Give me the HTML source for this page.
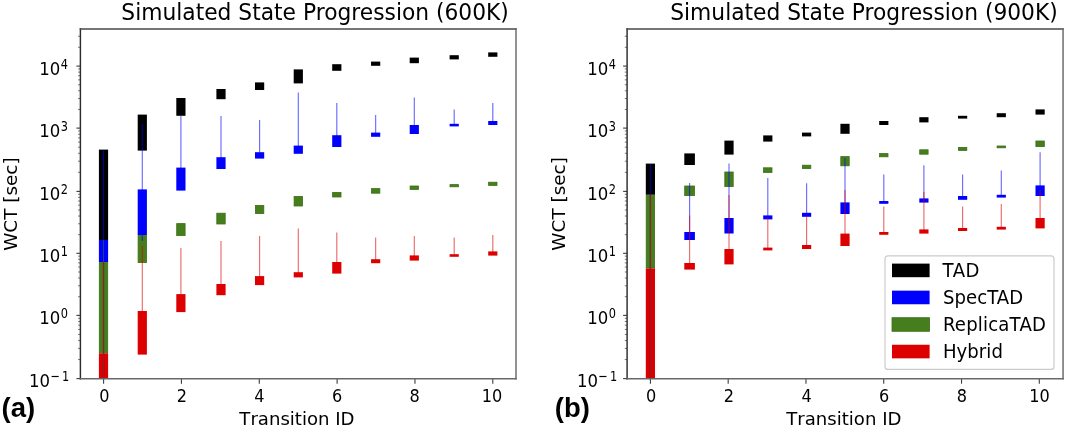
<!DOCTYPE html>
<html lang="en"><head><meta charset="utf-8"><title>Simulated State Progression</title>
<style>html,body{margin:0;padding:0;background:#fff;}body{width:1066px;height:427px;overflow:hidden;}svg{display:block;}</style>
</head><body>
<svg width="1066" height="427" viewBox="0 0 1066 427" font-family='"DejaVu Sans", "Liberation Sans", sans-serif' fill="#000">
<rect width="1066" height="427" fill="#fff"/>
<g>
<rect x="98.90" y="149.60" width="9.20" height="90.40" fill="#000000"/>
<rect x="137.70" y="114.60" width="9.20" height="36.00" fill="#000000"/>
<rect x="176.30" y="98.00" width="9.20" height="17.80" fill="#000000"/>
<rect x="216.40" y="89.00" width="9.20" height="10.20" fill="#000000"/>
<rect x="255.00" y="82.40" width="9.20" height="7.60" fill="#000000"/>
<rect x="293.70" y="69.40" width="9.20" height="14.00" fill="#000000"/>
<rect x="332.20" y="64.20" width="9.20" height="6.60" fill="#000000"/>
<rect x="371.05" y="61.60" width="9.20" height="4.20" fill="#000000"/>
<rect x="409.70" y="57.60" width="9.20" height="5.60" fill="#000000"/>
<rect x="449.60" y="55.20" width="9.20" height="4.20" fill="#000000"/>
<rect x="488.20" y="52.40" width="9.20" height="4.40" fill="#000000"/>
<rect x="98.90" y="240.00" width="9.20" height="22.00" fill="#0000ff"/>
<rect x="137.70" y="189.40" width="9.20" height="45.60" fill="#0000ff"/>
<rect x="176.30" y="167.60" width="9.20" height="23.00" fill="#0000ff"/>
<rect x="216.40" y="157.20" width="9.20" height="11.80" fill="#0000ff"/>
<rect x="255.00" y="152.20" width="9.20" height="6.40" fill="#0000ff"/>
<rect x="293.70" y="145.60" width="9.20" height="8.20" fill="#0000ff"/>
<rect x="332.20" y="135.20" width="9.20" height="11.80" fill="#0000ff"/>
<rect x="371.05" y="132.60" width="9.20" height="4.20" fill="#0000ff"/>
<rect x="409.70" y="125.00" width="9.20" height="9.00" fill="#0000ff"/>
<rect x="449.60" y="123.80" width="9.20" height="2.60" fill="#0000ff"/>
<rect x="488.20" y="121.00" width="9.20" height="4.00" fill="#0000ff"/>
<rect x="99.30" y="262.40" width="8.40" height="90.50" fill="#467e1e" stroke="#3b7016" stroke-width="0.8"/>
<rect x="138.10" y="235.40" width="8.40" height="27.20" fill="#467e1e" stroke="#3b7016" stroke-width="0.8"/>
<rect x="176.70" y="223.60" width="8.40" height="12.00" fill="#467e1e" stroke="#3b7016" stroke-width="0.8"/>
<rect x="216.80" y="213.20" width="8.40" height="10.80" fill="#467e1e" stroke="#3b7016" stroke-width="0.8"/>
<rect x="255.40" y="205.40" width="8.40" height="8.20" fill="#467e1e" stroke="#3b7016" stroke-width="0.8"/>
<rect x="294.10" y="196.40" width="8.40" height="9.60" fill="#467e1e" stroke="#3b7016" stroke-width="0.8"/>
<rect x="332.60" y="192.40" width="8.40" height="4.60" fill="#467e1e" stroke="#3b7016" stroke-width="0.8"/>
<rect x="371.45" y="188.60" width="8.40" height="4.60" fill="#467e1e" stroke="#3b7016" stroke-width="0.8"/>
<rect x="410.10" y="186.00" width="8.40" height="3.40" fill="#467e1e" stroke="#3b7016" stroke-width="0.8"/>
<rect x="450.00" y="184.60" width="8.40" height="2.20" fill="#467e1e" stroke="#3b7016" stroke-width="0.8"/>
<rect x="488.60" y="182.20" width="8.40" height="3.20" fill="#467e1e" stroke="#3b7016" stroke-width="0.8"/>
<rect x="98.90" y="353.30" width="9.20" height="25.40" fill="#dc0000"/>
<rect x="137.70" y="311.00" width="9.20" height="43.60" fill="#dc0000"/>
<rect x="176.30" y="294.10" width="9.20" height="18.00" fill="#dc0000"/>
<rect x="216.40" y="284.00" width="9.20" height="11.20" fill="#dc0000"/>
<rect x="255.00" y="276.10" width="9.20" height="9.00" fill="#dc0000"/>
<rect x="293.70" y="272.20" width="9.20" height="5.20" fill="#dc0000"/>
<rect x="332.20" y="262.00" width="9.20" height="11.60" fill="#dc0000"/>
<rect x="371.05" y="259.20" width="9.20" height="4.00" fill="#dc0000"/>
<rect x="409.70" y="255.40" width="9.20" height="5.20" fill="#dc0000"/>
<rect x="449.60" y="254.20" width="9.20" height="2.60" fill="#dc0000"/>
<rect x="488.20" y="251.40" width="9.20" height="4.20" fill="#dc0000"/>
<line x1="142.30" x2="142.30" y1="124.00" y2="241.00" stroke="#0000ff" stroke-opacity="0.58" stroke-width="1.15"/>
<line x1="180.90" x2="180.90" y1="116.00" y2="179.10" stroke="#0000ff" stroke-opacity="0.58" stroke-width="1.15"/>
<line x1="221.00" x2="221.00" y1="116.00" y2="163.10" stroke="#0000ff" stroke-opacity="0.58" stroke-width="1.15"/>
<line x1="259.60" x2="259.60" y1="120.00" y2="155.40" stroke="#0000ff" stroke-opacity="0.58" stroke-width="1.15"/>
<line x1="298.30" x2="298.30" y1="92.40" y2="149.70" stroke="#0000ff" stroke-opacity="0.58" stroke-width="1.15"/>
<line x1="336.80" x2="336.80" y1="103.00" y2="141.10" stroke="#0000ff" stroke-opacity="0.58" stroke-width="1.15"/>
<line x1="375.65" x2="375.65" y1="115.00" y2="134.70" stroke="#0000ff" stroke-opacity="0.58" stroke-width="1.15"/>
<line x1="414.30" x2="414.30" y1="97.60" y2="129.50" stroke="#0000ff" stroke-opacity="0.58" stroke-width="1.15"/>
<line x1="454.20" x2="454.20" y1="109.40" y2="125.10" stroke="#0000ff" stroke-opacity="0.58" stroke-width="1.15"/>
<line x1="492.80" x2="492.80" y1="103.00" y2="123.00" stroke="#0000ff" stroke-opacity="0.58" stroke-width="1.15"/>
<line x1="142.30" x2="142.30" y1="246.00" y2="332.80" stroke="#dc0000" stroke-opacity="0.58" stroke-width="1.15"/>
<line x1="180.90" x2="180.90" y1="248.00" y2="303.10" stroke="#dc0000" stroke-opacity="0.58" stroke-width="1.15"/>
<line x1="221.00" x2="221.00" y1="241.00" y2="289.60" stroke="#dc0000" stroke-opacity="0.58" stroke-width="1.15"/>
<line x1="259.60" x2="259.60" y1="236.00" y2="280.60" stroke="#dc0000" stroke-opacity="0.58" stroke-width="1.15"/>
<line x1="298.30" x2="298.30" y1="228.40" y2="274.80" stroke="#dc0000" stroke-opacity="0.58" stroke-width="1.15"/>
<line x1="336.80" x2="336.80" y1="232.40" y2="267.80" stroke="#dc0000" stroke-opacity="0.58" stroke-width="1.15"/>
<line x1="375.65" x2="375.65" y1="237.60" y2="261.20" stroke="#dc0000" stroke-opacity="0.58" stroke-width="1.15"/>
<line x1="414.30" x2="414.30" y1="236.00" y2="258.00" stroke="#dc0000" stroke-opacity="0.58" stroke-width="1.15"/>
<line x1="454.20" x2="454.20" y1="237.60" y2="255.50" stroke="#dc0000" stroke-opacity="0.58" stroke-width="1.15"/>
<line x1="492.80" x2="492.80" y1="235.00" y2="253.50" stroke="#dc0000" stroke-opacity="0.58" stroke-width="1.15"/>
<line x1="103.50" x2="103.50" y1="151.60" y2="378.70" stroke="#000000" stroke-opacity="0.35" stroke-width="1.15"/>
<line x1="103.50" x2="103.50" y1="150.10" y2="378.70" stroke="#0000ff" stroke-opacity="0.58" stroke-width="1.15"/>
<line x1="103.50" x2="103.50" y1="240.00" y2="378.70" stroke="#467e1e" stroke-opacity="0.5" stroke-width="1.15"/>
<line x1="103.50" x2="103.50" y1="262.00" y2="378.70" stroke="#dc0000" stroke-opacity="0.58" stroke-width="1.15"/>
<line x1="103.60" x2="103.60" y1="378.70" y2="383.70" stroke="#3c3c3c" stroke-width="1.1"/>
<text transform="translate(104.45,401.5) scale(0.96,1.045)" font-size="16.8" text-anchor="middle">0</text>
<line x1="181.44" x2="181.44" y1="378.70" y2="383.70" stroke="#3c3c3c" stroke-width="1.1"/>
<text transform="translate(181.97,401.5) scale(0.96,1.045)" font-size="16.8" text-anchor="middle">2</text>
<line x1="259.28" x2="259.28" y1="378.70" y2="383.70" stroke="#3c3c3c" stroke-width="1.1"/>
<text transform="translate(259.49,401.5) scale(0.96,1.045)" font-size="16.8" text-anchor="middle">4</text>
<line x1="337.12" x2="337.12" y1="378.70" y2="383.70" stroke="#3c3c3c" stroke-width="1.1"/>
<text transform="translate(337.01,401.5) scale(0.96,1.045)" font-size="16.8" text-anchor="middle">6</text>
<line x1="414.96" x2="414.96" y1="378.70" y2="383.70" stroke="#3c3c3c" stroke-width="1.1"/>
<text transform="translate(414.53,401.5) scale(0.96,1.045)" font-size="16.8" text-anchor="middle">8</text>
<line x1="492.80" x2="492.80" y1="378.70" y2="383.70" stroke="#3c3c3c" stroke-width="1.1"/>
<text transform="translate(492.05,401.5) scale(0.96,1.045)" font-size="16.8" text-anchor="middle">10</text>
<line x1="76.40" x2="80.40" y1="378.60" y2="378.60" stroke="#3c3c3c" stroke-width="1.1"/>
<text transform="translate(50.10,387.20) scale(0.985,1.04)" font-size="16.8" text-anchor="end">10</text>
<text transform="translate(50.20,381.10) scale(0.9,1.14)" font-size="12.6">−</text>
<text transform="translate(62.00,381.10) scale(0.9,1.14)" font-size="12.6">1</text>
<line x1="78.10" x2="80.40" y1="359.57" y2="359.57" stroke="#3c3c3c" stroke-width="0.7"/>
<line x1="78.10" x2="80.40" y1="348.45" y2="348.45" stroke="#3c3c3c" stroke-width="0.7"/>
<line x1="78.10" x2="80.40" y1="340.55" y2="340.55" stroke="#3c3c3c" stroke-width="0.7"/>
<line x1="78.10" x2="80.40" y1="334.43" y2="334.43" stroke="#3c3c3c" stroke-width="0.7"/>
<line x1="78.10" x2="80.40" y1="329.42" y2="329.42" stroke="#3c3c3c" stroke-width="0.7"/>
<line x1="78.10" x2="80.40" y1="325.19" y2="325.19" stroke="#3c3c3c" stroke-width="0.7"/>
<line x1="78.10" x2="80.40" y1="321.52" y2="321.52" stroke="#3c3c3c" stroke-width="0.7"/>
<line x1="78.10" x2="80.40" y1="318.29" y2="318.29" stroke="#3c3c3c" stroke-width="0.7"/>
<line x1="76.40" x2="80.40" y1="315.40" y2="315.40" stroke="#3c3c3c" stroke-width="1.1"/>
<text transform="translate(60.40,324.00) scale(0.985,1.04)" font-size="16.8" text-anchor="end">10</text>
<text transform="translate(60.80,317.90) scale(0.9,1.14)" font-size="12.6">0</text>
<line x1="78.10" x2="80.40" y1="296.71" y2="296.71" stroke="#3c3c3c" stroke-width="0.7"/>
<line x1="78.10" x2="80.40" y1="285.77" y2="285.77" stroke="#3c3c3c" stroke-width="0.7"/>
<line x1="78.10" x2="80.40" y1="278.01" y2="278.01" stroke="#3c3c3c" stroke-width="0.7"/>
<line x1="78.10" x2="80.40" y1="271.99" y2="271.99" stroke="#3c3c3c" stroke-width="0.7"/>
<line x1="78.10" x2="80.40" y1="267.08" y2="267.08" stroke="#3c3c3c" stroke-width="0.7"/>
<line x1="78.10" x2="80.40" y1="262.92" y2="262.92" stroke="#3c3c3c" stroke-width="0.7"/>
<line x1="78.10" x2="80.40" y1="259.32" y2="259.32" stroke="#3c3c3c" stroke-width="0.7"/>
<line x1="78.10" x2="80.40" y1="256.14" y2="256.14" stroke="#3c3c3c" stroke-width="0.7"/>
<line x1="76.40" x2="80.40" y1="253.30" y2="253.30" stroke="#3c3c3c" stroke-width="1.1"/>
<text transform="translate(60.40,261.90) scale(0.985,1.04)" font-size="16.8" text-anchor="end">10</text>
<text transform="translate(60.80,255.80) scale(0.9,1.14)" font-size="12.6">1</text>
<line x1="78.10" x2="80.40" y1="234.67" y2="234.67" stroke="#3c3c3c" stroke-width="0.7"/>
<line x1="78.10" x2="80.40" y1="223.77" y2="223.77" stroke="#3c3c3c" stroke-width="0.7"/>
<line x1="78.10" x2="80.40" y1="216.03" y2="216.03" stroke="#3c3c3c" stroke-width="0.7"/>
<line x1="78.10" x2="80.40" y1="210.03" y2="210.03" stroke="#3c3c3c" stroke-width="0.7"/>
<line x1="78.10" x2="80.40" y1="205.13" y2="205.13" stroke="#3c3c3c" stroke-width="0.7"/>
<line x1="78.10" x2="80.40" y1="200.99" y2="200.99" stroke="#3c3c3c" stroke-width="0.7"/>
<line x1="78.10" x2="80.40" y1="197.40" y2="197.40" stroke="#3c3c3c" stroke-width="0.7"/>
<line x1="78.10" x2="80.40" y1="194.23" y2="194.23" stroke="#3c3c3c" stroke-width="0.7"/>
<line x1="76.40" x2="80.40" y1="191.40" y2="191.40" stroke="#3c3c3c" stroke-width="1.1"/>
<text transform="translate(60.40,200.00) scale(0.985,1.04)" font-size="16.8" text-anchor="end">10</text>
<text transform="translate(60.80,193.90) scale(0.9,1.14)" font-size="12.6">2</text>
<line x1="78.10" x2="80.40" y1="172.34" y2="172.34" stroke="#3c3c3c" stroke-width="0.7"/>
<line x1="78.10" x2="80.40" y1="161.20" y2="161.20" stroke="#3c3c3c" stroke-width="0.7"/>
<line x1="78.10" x2="80.40" y1="153.29" y2="153.29" stroke="#3c3c3c" stroke-width="0.7"/>
<line x1="78.10" x2="80.40" y1="147.16" y2="147.16" stroke="#3c3c3c" stroke-width="0.7"/>
<line x1="78.10" x2="80.40" y1="142.14" y2="142.14" stroke="#3c3c3c" stroke-width="0.7"/>
<line x1="78.10" x2="80.40" y1="137.91" y2="137.91" stroke="#3c3c3c" stroke-width="0.7"/>
<line x1="78.10" x2="80.40" y1="134.23" y2="134.23" stroke="#3c3c3c" stroke-width="0.7"/>
<line x1="78.10" x2="80.40" y1="131.00" y2="131.00" stroke="#3c3c3c" stroke-width="0.7"/>
<line x1="76.40" x2="80.40" y1="128.10" y2="128.10" stroke="#3c3c3c" stroke-width="1.1"/>
<text transform="translate(60.40,136.70) scale(0.985,1.04)" font-size="16.8" text-anchor="end">10</text>
<text transform="translate(60.80,130.60) scale(0.9,1.14)" font-size="12.6">3</text>
<line x1="78.10" x2="80.40" y1="109.44" y2="109.44" stroke="#3c3c3c" stroke-width="0.7"/>
<line x1="78.10" x2="80.40" y1="98.52" y2="98.52" stroke="#3c3c3c" stroke-width="0.7"/>
<line x1="78.10" x2="80.40" y1="90.77" y2="90.77" stroke="#3c3c3c" stroke-width="0.7"/>
<line x1="78.10" x2="80.40" y1="84.76" y2="84.76" stroke="#3c3c3c" stroke-width="0.7"/>
<line x1="78.10" x2="80.40" y1="79.85" y2="79.85" stroke="#3c3c3c" stroke-width="0.7"/>
<line x1="78.10" x2="80.40" y1="75.70" y2="75.70" stroke="#3c3c3c" stroke-width="0.7"/>
<line x1="78.10" x2="80.40" y1="72.11" y2="72.11" stroke="#3c3c3c" stroke-width="0.7"/>
<line x1="78.10" x2="80.40" y1="68.94" y2="68.94" stroke="#3c3c3c" stroke-width="0.7"/>
<line x1="76.40" x2="80.40" y1="66.10" y2="66.10" stroke="#3c3c3c" stroke-width="1.1"/>
<text transform="translate(60.40,74.70) scale(0.985,1.04)" font-size="16.8" text-anchor="end">10</text>
<text transform="translate(60.80,68.60) scale(0.9,1.14)" font-size="12.6">4</text>
<line x1="78.10" x2="80.40" y1="47.29" y2="47.29" stroke="#3c3c3c" stroke-width="0.7"/>
<line x1="78.10" x2="80.40" y1="36.28" y2="36.28" stroke="#3c3c3c" stroke-width="0.7"/>
<path d="M80.40 379.40V28.20" stroke="#2c2c2c" stroke-width="1.45" fill="none"/>
<path d="M79.70 28.90H516.70" stroke="#484848" stroke-width="1.45" fill="none"/>
<path d="M516.00 28.20V379.40" stroke="#686868" stroke-width="1.45" fill="none"/>
<path d="M79.70 378.70H516.70" stroke="#686868" stroke-width="1.45" fill="none"/>
<text transform="translate(315.10,20.4) scale(1,1.055)" font-size="21.8" text-anchor="middle">Simulated State Progression (600K)</text>
<text x="296.95" y="424.7" font-size="18.1" text-anchor="middle" style="font-kerning:none">Transition ID</text>
</g>
<g>
<rect x="645.80" y="163.60" width="9.20" height="31.20" fill="#000000"/>
<rect x="684.30" y="153.40" width="10.60" height="11.60" fill="#000000"/>
<rect x="724.40" y="140.60" width="9.20" height="14.00" fill="#000000"/>
<rect x="763.20" y="135.40" width="9.20" height="6.20" fill="#000000"/>
<rect x="802.00" y="132.60" width="9.20" height="3.80" fill="#000000"/>
<rect x="840.40" y="123.80" width="9.20" height="10.00" fill="#000000"/>
<rect x="879.20" y="121.00" width="9.20" height="4.00" fill="#000000"/>
<rect x="919.30" y="117.20" width="9.20" height="5.20" fill="#000000"/>
<rect x="958.00" y="115.80" width="9.20" height="2.80" fill="#000000"/>
<rect x="996.70" y="113.20" width="9.20" height="4.00" fill="#000000"/>
<rect x="1035.50" y="109.40" width="9.20" height="5.20" fill="#000000"/>
<rect x="684.30" y="232.00" width="10.60" height="8.00" fill="#0000ff"/>
<rect x="724.40" y="218.00" width="9.20" height="15.50" fill="#0000ff"/>
<rect x="763.20" y="215.40" width="9.20" height="4.00" fill="#0000ff"/>
<rect x="802.00" y="212.80" width="9.20" height="4.00" fill="#0000ff"/>
<rect x="840.40" y="202.40" width="9.20" height="11.60" fill="#0000ff"/>
<rect x="879.20" y="201.00" width="9.20" height="2.80" fill="#0000ff"/>
<rect x="919.30" y="198.40" width="9.20" height="4.20" fill="#0000ff"/>
<rect x="958.00" y="196.00" width="9.20" height="3.80" fill="#0000ff"/>
<rect x="996.70" y="194.80" width="9.20" height="2.80" fill="#0000ff"/>
<rect x="1035.50" y="185.40" width="9.20" height="10.60" fill="#0000ff"/>
<rect x="646.20" y="195.20" width="8.40" height="72.80" fill="#467e1e" stroke="#3b7016" stroke-width="0.8"/>
<rect x="684.70" y="186.00" width="9.80" height="9.60" fill="#467e1e" stroke="#3b7016" stroke-width="0.8"/>
<rect x="724.80" y="172.00" width="8.40" height="14.60" fill="#467e1e" stroke="#3b7016" stroke-width="0.8"/>
<rect x="763.60" y="167.80" width="8.40" height="4.60" fill="#467e1e" stroke="#3b7016" stroke-width="0.8"/>
<rect x="802.40" y="165.20" width="8.40" height="3.40" fill="#467e1e" stroke="#3b7016" stroke-width="0.8"/>
<rect x="840.80" y="156.60" width="8.40" height="9.20" fill="#467e1e" stroke="#3b7016" stroke-width="0.8"/>
<rect x="879.60" y="153.60" width="8.40" height="3.20" fill="#467e1e" stroke="#3b7016" stroke-width="0.8"/>
<rect x="919.70" y="149.80" width="8.40" height="4.40" fill="#467e1e" stroke="#3b7016" stroke-width="0.8"/>
<rect x="958.40" y="147.40" width="8.40" height="3.00" fill="#467e1e" stroke="#3b7016" stroke-width="0.8"/>
<rect x="997.10" y="146.00" width="8.40" height="1.80" fill="#467e1e" stroke="#3b7016" stroke-width="0.8"/>
<rect x="1035.90" y="141.00" width="8.40" height="5.60" fill="#467e1e" stroke="#3b7016" stroke-width="0.8"/>
<rect x="645.80" y="268.40" width="9.20" height="110.30" fill="#dc0000"/>
<rect x="684.30" y="263.00" width="10.60" height="6.60" fill="#dc0000"/>
<rect x="724.40" y="249.00" width="9.20" height="15.40" fill="#dc0000"/>
<rect x="763.20" y="247.60" width="9.20" height="2.80" fill="#dc0000"/>
<rect x="802.00" y="245.00" width="9.20" height="4.00" fill="#dc0000"/>
<rect x="840.40" y="233.60" width="9.20" height="12.40" fill="#dc0000"/>
<rect x="879.20" y="232.00" width="9.20" height="2.80" fill="#dc0000"/>
<rect x="919.30" y="229.40" width="9.20" height="4.20" fill="#dc0000"/>
<rect x="958.00" y="228.00" width="9.20" height="3.00" fill="#dc0000"/>
<rect x="996.70" y="226.80" width="9.20" height="2.80" fill="#dc0000"/>
<rect x="1035.50" y="218.00" width="9.20" height="10.40" fill="#dc0000"/>
<line x1="689.60" x2="689.60" y1="183.00" y2="236.00" stroke="#0000ff" stroke-opacity="0.58" stroke-width="1.15"/>
<line x1="729.00" x2="729.00" y1="163.60" y2="225.75" stroke="#0000ff" stroke-opacity="0.58" stroke-width="1.15"/>
<line x1="767.80" x2="767.80" y1="178.00" y2="217.40" stroke="#0000ff" stroke-opacity="0.58" stroke-width="1.15"/>
<line x1="806.60" x2="806.60" y1="183.20" y2="214.80" stroke="#0000ff" stroke-opacity="0.58" stroke-width="1.15"/>
<line x1="845.00" x2="845.00" y1="158.00" y2="208.20" stroke="#0000ff" stroke-opacity="0.58" stroke-width="1.15"/>
<line x1="883.80" x2="883.80" y1="174.40" y2="202.40" stroke="#0000ff" stroke-opacity="0.58" stroke-width="1.15"/>
<line x1="923.90" x2="923.90" y1="165.20" y2="200.50" stroke="#0000ff" stroke-opacity="0.58" stroke-width="1.15"/>
<line x1="962.60" x2="962.60" y1="174.40" y2="197.90" stroke="#0000ff" stroke-opacity="0.58" stroke-width="1.15"/>
<line x1="1001.30" x2="1001.30" y1="170.40" y2="196.20" stroke="#0000ff" stroke-opacity="0.58" stroke-width="1.15"/>
<line x1="1040.10" x2="1040.10" y1="152.20" y2="190.70" stroke="#0000ff" stroke-opacity="0.58" stroke-width="1.15"/>
<line x1="689.60" x2="689.60" y1="215.60" y2="266.30" stroke="#dc0000" stroke-opacity="0.58" stroke-width="1.15"/>
<line x1="729.00" x2="729.00" y1="195.00" y2="256.70" stroke="#dc0000" stroke-opacity="0.58" stroke-width="1.15"/>
<line x1="767.80" x2="767.80" y1="217.00" y2="249.00" stroke="#dc0000" stroke-opacity="0.58" stroke-width="1.15"/>
<line x1="806.60" x2="806.60" y1="216.00" y2="247.00" stroke="#dc0000" stroke-opacity="0.58" stroke-width="1.15"/>
<line x1="845.00" x2="845.00" y1="190.00" y2="239.80" stroke="#dc0000" stroke-opacity="0.58" stroke-width="1.15"/>
<line x1="883.80" x2="883.80" y1="206.40" y2="233.40" stroke="#dc0000" stroke-opacity="0.58" stroke-width="1.15"/>
<line x1="923.90" x2="923.90" y1="192.00" y2="231.50" stroke="#dc0000" stroke-opacity="0.58" stroke-width="1.15"/>
<line x1="962.60" x2="962.60" y1="206.40" y2="229.50" stroke="#dc0000" stroke-opacity="0.58" stroke-width="1.15"/>
<line x1="1001.30" x2="1001.30" y1="204.00" y2="228.20" stroke="#dc0000" stroke-opacity="0.58" stroke-width="1.15"/>
<line x1="1040.10" x2="1040.10" y1="190.00" y2="223.20" stroke="#dc0000" stroke-opacity="0.58" stroke-width="1.15"/>
<line x1="650.40" x2="650.40" y1="165.60" y2="378.70" stroke="#000000" stroke-opacity="0.35" stroke-width="1.15"/>
<line x1="650.40" x2="650.40" y1="164.10" y2="378.70" stroke="#0000ff" stroke-opacity="0.58" stroke-width="1.15"/>
<line x1="650.40" x2="650.40" y1="194.80" y2="378.70" stroke="#467e1e" stroke-opacity="0.5" stroke-width="1.15"/>
<line x1="650.40" x2="650.40" y1="194.80" y2="378.70" stroke="#dc0000" stroke-opacity="0.58" stroke-width="1.15"/>
<line x1="650.40" x2="650.40" y1="378.70" y2="383.70" stroke="#3c3c3c" stroke-width="1.1"/>
<text transform="translate(651.25,401.5) scale(0.96,1.045)" font-size="16.8" text-anchor="middle">0</text>
<line x1="728.18" x2="728.18" y1="378.70" y2="383.70" stroke="#3c3c3c" stroke-width="1.1"/>
<text transform="translate(728.89,401.5) scale(0.96,1.045)" font-size="16.8" text-anchor="middle">2</text>
<line x1="805.96" x2="805.96" y1="378.70" y2="383.70" stroke="#3c3c3c" stroke-width="1.1"/>
<text transform="translate(806.53,401.5) scale(0.96,1.045)" font-size="16.8" text-anchor="middle">4</text>
<line x1="883.74" x2="883.74" y1="378.70" y2="383.70" stroke="#3c3c3c" stroke-width="1.1"/>
<text transform="translate(884.17,401.5) scale(0.96,1.045)" font-size="16.8" text-anchor="middle">6</text>
<line x1="961.52" x2="961.52" y1="378.70" y2="383.70" stroke="#3c3c3c" stroke-width="1.1"/>
<text transform="translate(961.81,401.5) scale(0.96,1.045)" font-size="16.8" text-anchor="middle">8</text>
<line x1="1039.30" x2="1039.30" y1="378.70" y2="383.70" stroke="#3c3c3c" stroke-width="1.1"/>
<text transform="translate(1039.45,401.5) scale(0.96,1.045)" font-size="16.8" text-anchor="middle">10</text>
<line x1="623.10" x2="627.10" y1="378.60" y2="378.60" stroke="#3c3c3c" stroke-width="1.1"/>
<text transform="translate(598.00,387.20) scale(0.985,1.04)" font-size="16.8" text-anchor="end">10</text>
<text transform="translate(598.10,381.10) scale(0.9,1.14)" font-size="12.6">−</text>
<text transform="translate(609.90,381.10) scale(0.9,1.14)" font-size="12.6">1</text>
<line x1="624.80" x2="627.10" y1="359.57" y2="359.57" stroke="#3c3c3c" stroke-width="0.7"/>
<line x1="624.80" x2="627.10" y1="348.45" y2="348.45" stroke="#3c3c3c" stroke-width="0.7"/>
<line x1="624.80" x2="627.10" y1="340.55" y2="340.55" stroke="#3c3c3c" stroke-width="0.7"/>
<line x1="624.80" x2="627.10" y1="334.43" y2="334.43" stroke="#3c3c3c" stroke-width="0.7"/>
<line x1="624.80" x2="627.10" y1="329.42" y2="329.42" stroke="#3c3c3c" stroke-width="0.7"/>
<line x1="624.80" x2="627.10" y1="325.19" y2="325.19" stroke="#3c3c3c" stroke-width="0.7"/>
<line x1="624.80" x2="627.10" y1="321.52" y2="321.52" stroke="#3c3c3c" stroke-width="0.7"/>
<line x1="624.80" x2="627.10" y1="318.29" y2="318.29" stroke="#3c3c3c" stroke-width="0.7"/>
<line x1="623.10" x2="627.10" y1="315.40" y2="315.40" stroke="#3c3c3c" stroke-width="1.1"/>
<text transform="translate(608.30,324.00) scale(0.985,1.04)" font-size="16.8" text-anchor="end">10</text>
<text transform="translate(608.70,317.90) scale(0.9,1.14)" font-size="12.6">0</text>
<line x1="624.80" x2="627.10" y1="296.71" y2="296.71" stroke="#3c3c3c" stroke-width="0.7"/>
<line x1="624.80" x2="627.10" y1="285.77" y2="285.77" stroke="#3c3c3c" stroke-width="0.7"/>
<line x1="624.80" x2="627.10" y1="278.01" y2="278.01" stroke="#3c3c3c" stroke-width="0.7"/>
<line x1="624.80" x2="627.10" y1="271.99" y2="271.99" stroke="#3c3c3c" stroke-width="0.7"/>
<line x1="624.80" x2="627.10" y1="267.08" y2="267.08" stroke="#3c3c3c" stroke-width="0.7"/>
<line x1="624.80" x2="627.10" y1="262.92" y2="262.92" stroke="#3c3c3c" stroke-width="0.7"/>
<line x1="624.80" x2="627.10" y1="259.32" y2="259.32" stroke="#3c3c3c" stroke-width="0.7"/>
<line x1="624.80" x2="627.10" y1="256.14" y2="256.14" stroke="#3c3c3c" stroke-width="0.7"/>
<line x1="623.10" x2="627.10" y1="253.30" y2="253.30" stroke="#3c3c3c" stroke-width="1.1"/>
<text transform="translate(608.30,261.90) scale(0.985,1.04)" font-size="16.8" text-anchor="end">10</text>
<text transform="translate(608.70,255.80) scale(0.9,1.14)" font-size="12.6">1</text>
<line x1="624.80" x2="627.10" y1="234.67" y2="234.67" stroke="#3c3c3c" stroke-width="0.7"/>
<line x1="624.80" x2="627.10" y1="223.77" y2="223.77" stroke="#3c3c3c" stroke-width="0.7"/>
<line x1="624.80" x2="627.10" y1="216.03" y2="216.03" stroke="#3c3c3c" stroke-width="0.7"/>
<line x1="624.80" x2="627.10" y1="210.03" y2="210.03" stroke="#3c3c3c" stroke-width="0.7"/>
<line x1="624.80" x2="627.10" y1="205.13" y2="205.13" stroke="#3c3c3c" stroke-width="0.7"/>
<line x1="624.80" x2="627.10" y1="200.99" y2="200.99" stroke="#3c3c3c" stroke-width="0.7"/>
<line x1="624.80" x2="627.10" y1="197.40" y2="197.40" stroke="#3c3c3c" stroke-width="0.7"/>
<line x1="624.80" x2="627.10" y1="194.23" y2="194.23" stroke="#3c3c3c" stroke-width="0.7"/>
<line x1="623.10" x2="627.10" y1="191.40" y2="191.40" stroke="#3c3c3c" stroke-width="1.1"/>
<text transform="translate(608.30,200.00) scale(0.985,1.04)" font-size="16.8" text-anchor="end">10</text>
<text transform="translate(608.70,193.90) scale(0.9,1.14)" font-size="12.6">2</text>
<line x1="624.80" x2="627.10" y1="172.34" y2="172.34" stroke="#3c3c3c" stroke-width="0.7"/>
<line x1="624.80" x2="627.10" y1="161.20" y2="161.20" stroke="#3c3c3c" stroke-width="0.7"/>
<line x1="624.80" x2="627.10" y1="153.29" y2="153.29" stroke="#3c3c3c" stroke-width="0.7"/>
<line x1="624.80" x2="627.10" y1="147.16" y2="147.16" stroke="#3c3c3c" stroke-width="0.7"/>
<line x1="624.80" x2="627.10" y1="142.14" y2="142.14" stroke="#3c3c3c" stroke-width="0.7"/>
<line x1="624.80" x2="627.10" y1="137.91" y2="137.91" stroke="#3c3c3c" stroke-width="0.7"/>
<line x1="624.80" x2="627.10" y1="134.23" y2="134.23" stroke="#3c3c3c" stroke-width="0.7"/>
<line x1="624.80" x2="627.10" y1="131.00" y2="131.00" stroke="#3c3c3c" stroke-width="0.7"/>
<line x1="623.10" x2="627.10" y1="128.10" y2="128.10" stroke="#3c3c3c" stroke-width="1.1"/>
<text transform="translate(608.30,136.70) scale(0.985,1.04)" font-size="16.8" text-anchor="end">10</text>
<text transform="translate(608.70,130.60) scale(0.9,1.14)" font-size="12.6">3</text>
<line x1="624.80" x2="627.10" y1="109.44" y2="109.44" stroke="#3c3c3c" stroke-width="0.7"/>
<line x1="624.80" x2="627.10" y1="98.52" y2="98.52" stroke="#3c3c3c" stroke-width="0.7"/>
<line x1="624.80" x2="627.10" y1="90.77" y2="90.77" stroke="#3c3c3c" stroke-width="0.7"/>
<line x1="624.80" x2="627.10" y1="84.76" y2="84.76" stroke="#3c3c3c" stroke-width="0.7"/>
<line x1="624.80" x2="627.10" y1="79.85" y2="79.85" stroke="#3c3c3c" stroke-width="0.7"/>
<line x1="624.80" x2="627.10" y1="75.70" y2="75.70" stroke="#3c3c3c" stroke-width="0.7"/>
<line x1="624.80" x2="627.10" y1="72.11" y2="72.11" stroke="#3c3c3c" stroke-width="0.7"/>
<line x1="624.80" x2="627.10" y1="68.94" y2="68.94" stroke="#3c3c3c" stroke-width="0.7"/>
<line x1="623.10" x2="627.10" y1="66.10" y2="66.10" stroke="#3c3c3c" stroke-width="1.1"/>
<text transform="translate(608.30,74.70) scale(0.985,1.04)" font-size="16.8" text-anchor="end">10</text>
<text transform="translate(608.70,68.60) scale(0.9,1.14)" font-size="12.6">4</text>
<line x1="624.80" x2="627.10" y1="47.29" y2="47.29" stroke="#3c3c3c" stroke-width="0.7"/>
<line x1="624.80" x2="627.10" y1="36.28" y2="36.28" stroke="#3c3c3c" stroke-width="0.7"/>
<path d="M627.10 379.40V28.20" stroke="#2c2c2c" stroke-width="1.45" fill="none"/>
<path d="M626.40 28.90H1063.75" stroke="#484848" stroke-width="1.45" fill="none"/>
<path d="M1063.05 28.20V379.40" stroke="#686868" stroke-width="1.45" fill="none"/>
<path d="M626.40 378.70H1063.75" stroke="#686868" stroke-width="1.45" fill="none"/>
<text transform="translate(863.98,20.4) scale(1,1.055)" font-size="21.8" text-anchor="middle">Simulated State Progression (900K)</text>
<text x="843.83" y="424.7" font-size="18.1" text-anchor="middle" style="font-kerning:none">Transition ID</text>
</g>
<text transform="translate(16.7,204.1) rotate(-90)" font-size="18.4" text-anchor="middle">WCT [sec]</text>
<text transform="translate(564.5,203.9) rotate(-90)" font-size="18.4" text-anchor="middle">WCT [sec]</text>
<rect x="885.0" y="255.8" width="169.0" height="113.6" rx="3" ry="3" fill="#fff" fill-opacity="0.8" stroke="#cccccc" stroke-width="1.2"/>
<rect x="892.0" y="263.60" width="37.6" height="13.6" fill="#000000"/>
<text transform="translate(942.6,276.50) scale(1,1.04)" font-size="18.1" letter-spacing="0.5">TAD</text>
<rect x="892.0" y="290.65" width="37.6" height="13.6" fill="#0000ff"/>
<text transform="translate(942.9,303.55) scale(1,1.04)" font-size="18.1" letter-spacing="0.05">SpecTAD</text>
<rect x="892.0" y="317.70" width="37.6" height="13.6" fill="#467e1e" stroke="#3b7016" stroke-width="0.8"/>
<text transform="translate(942.9,330.60) scale(1,1.04)" font-size="18.1" letter-spacing="0.18">ReplicaTAD</text>
<rect x="892.0" y="344.75" width="37.6" height="13.6" fill="#dc0000"/>
<text transform="translate(942.9,357.65) scale(1,1.04)" font-size="18.1" letter-spacing="0.05">Hybrid</text>
<text x="1.6" y="417" font-size="27.5" font-weight="bold" font-family='"Liberation Sans", Arial, Helvetica, sans-serif'>(a)</text>
<text x="554.8" y="417" font-size="27.5" font-weight="bold" font-family='"Liberation Sans", Arial, Helvetica, sans-serif'>(b)</text>
</svg>
</body></html>
